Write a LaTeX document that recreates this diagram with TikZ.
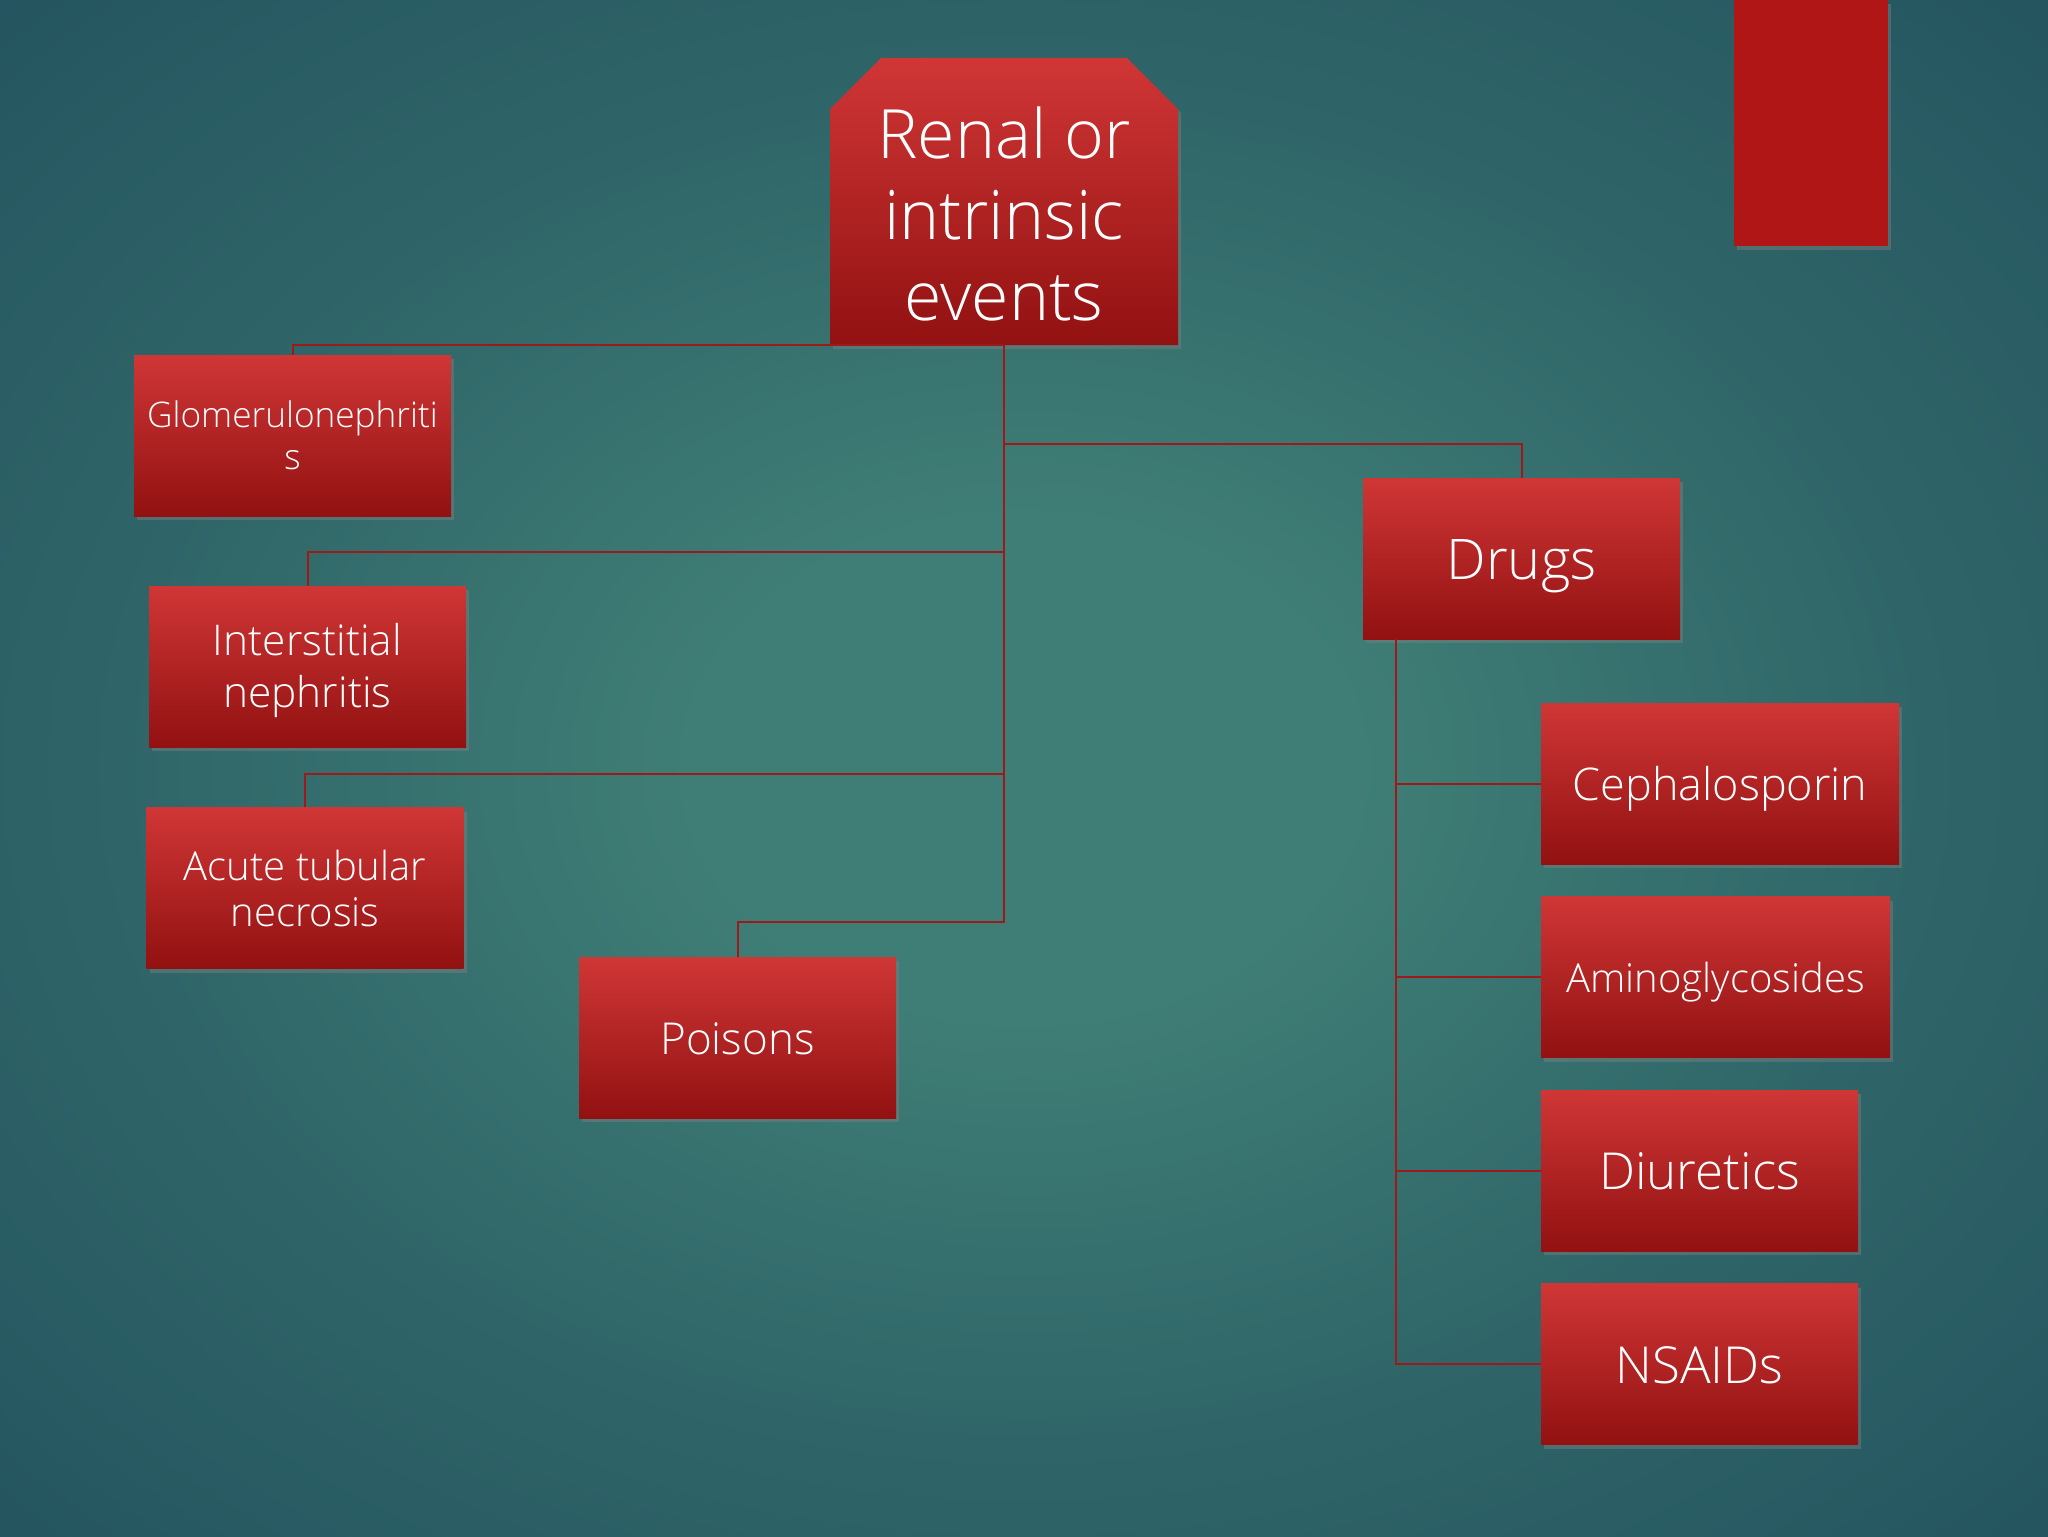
\documentclass[tikz,border=0pt]{standalone}
\usepackage{fontspec}
\setmainfont{Open Sans}[UprightFont=* Light]
\usetikzlibrary{shapes.misc,shadows}

\definecolor{bgA}{HTML}{3F7E76}
\definecolor{bgB}{HTML}{2F6568}
\definecolor{bgC}{HTML}{22525E}
\definecolor{bgD}{HTML}{184250}
\definecolor{bgE}{HTML}{113546}
\definecolor{boxtop}{HTML}{D03636}
\definecolor{boxbot}{HTML}{921111}
\definecolor{linkred}{HTML}{9E1A1A}
\definecolor{decored}{HTML}{B01616}

\pgfdeclareradialshading{slidebg}{\pgfpoint{0bp}{0bp}}{color(0bp)=(bgA); color(8bp)=(bgA); color(22bp)=(bgB); color(38bp)=(bgC); color(55bp)=(bgD); color(72bp)=(bgE)}

\begin{document}
\begin{tikzpicture}[x=0.5pt,y=-0.5pt,
    box/.style={rectangle, top color=boxtop, bottom color=boxbot, text=white,
        align=center, inner sep=0pt, minimum width=158.5pt, minimum height=80.5pt,
        drop shadow={shadow xshift=1.5pt, shadow yshift=-2pt, opacity=0.45}},
    oneline/.style={execute at begin node={\rule[-0.25em]{0pt}{1.25em}}},
    link/.style={draw=linkred, line width=1pt}]
    \useasboundingbox (0,0) rectangle (2048,1536);
    \shade[shading=slidebg] (0,0) rectangle (2048,1536);
    \fill[decored, drop shadow={shadow xshift=1.5pt, shadow yshift=-2pt, opacity=0.45}] (1734,0) rectangle (1888,246);

    % top of the tree
    \node[box, chamfered rectangle, chamfered rectangle corners={north west,north east},
        chamfered rectangle xsep=22pt, minimum width=174pt, minimum height=143.5pt,
        font=\fontsize{34}{40.5}\selectfont] (renal) at (1004,201.5) {\rule{0pt}{38pt}Renal or\\intrinsic\\events};

    \node[box, font=\fontsize{17.6}{21}\selectfont] (glom) at (292.5,435.5) {Glomerulonephriti\\s};
    \node[box, font=\fontsize{21.2}{26}\selectfont] (inter) at (307.5,666.5) {\rule{0pt}{20pt}Interstitial\\nephritis};
    \node[box, font=\fontsize{20}{23}\selectfont] (atn) at (305,888) {Acute tubular\\necrosis};
    \node[box, oneline, font=\fontsize{22}{25}\selectfont] (poisons) at (737.5,1037.5) {Poisons};
    \node[box, oneline, font=\fontsize{28}{30}\selectfont] (drugs) at (1521.5,558.5) {Drugs};

    % drug classes
    \node[box, oneline, minimum width=179pt, font=\fontsize{22.5}{26}\selectfont] (ceph) at (1720,783.5) {Cephalosporin};
    \node[box, oneline, minimum width=174.5pt, font=\fontsize{20}{23}\selectfont] (amino) at (1715.5,977) {Aminoglycosides};
    \node[box, oneline, font=\fontsize{25.5}{30}\selectfont] (diur) at (1699.5,1170.5) {Diuretics};
    \node[box, oneline, font=\fontsize{25.5}{30}\selectfont] (nsaid) at (1699.5,1364) {NSAIDs};

    \draw[link] (renal.south) -| (glom.north);
    \draw[link] (renal.south) -- ++(0,577) -| (poisons.north);
    \draw[link] (renal.south) ++(0,99) -| (drugs.north);
    \draw[link] (renal.south) ++(0,207) -| (inter.north);
    \draw[link] (renal.south) ++(0,429) -| (atn.north);

    \draw[link] (drugs.south west) ++(33,0) |- (nsaid.west);
    \foreach \k in {ceph,amino,diur}
        \draw[link] (drugs.south west) ++(33,0) |- (\k.west);
\end{tikzpicture}
\end{document}
